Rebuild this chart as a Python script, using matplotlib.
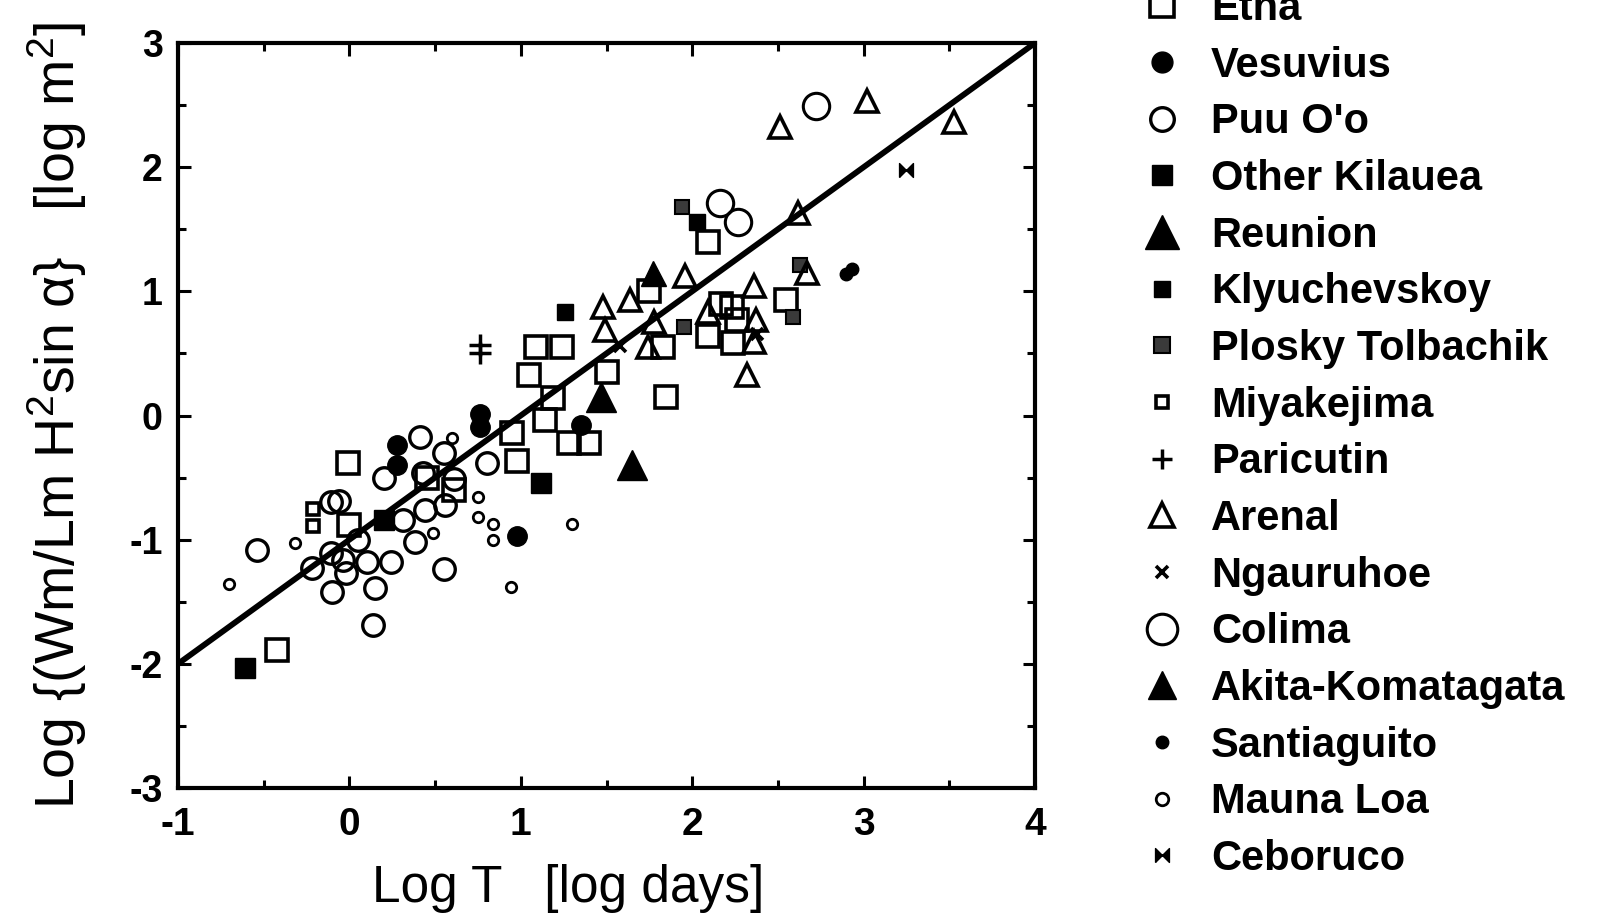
import matplotlib
matplotlib.use("Agg")
import matplotlib.pyplot as plt
from matplotlib.lines import Line2D

plt.rcParams['font.family'] = ['Liberation Sans', 'DejaVu Sans']
plt.rcParams['mathtext.fontset'] = 'custom'
plt.rcParams['mathtext.rm'] = 'Liberation Sans'
plt.rcParams['mathtext.it'] = 'Liberation Sans:italic'

# ---- data (log T [log days], log{Wm/Lm H^2 sin a} [log m^2]) ----
etna_x = [-0.42, -0.01, 0.00, 0.45, 0.61, 0.95, 0.98, 1.09, 1.24, 1.05, 1.19, 1.14, 1.28,
          1.40, 1.50, 1.85, 1.75, 2.09, 1.83, 2.17, 2.23, 2.26, 2.09, 2.24, 2.55]
etna_y = [-1.89, -0.38, -0.88, -0.50, -0.60, -0.14, -0.37, 0.55, 0.55, 0.33, 0.14, -0.04, -0.22,
          -0.22, 0.35, 0.15, 1.00, 1.40, 0.55, 0.90, 0.87, 0.77, 0.64, 0.58, 0.93]

vesuvius_x = [0.28, 0.28, 0.76, 0.76, 0.98, 1.35]
vesuvius_y = [-0.24, -0.40, 0.01, -0.09, -0.97, -0.08]

puuoo_x = [-0.54, -0.11, -0.06, 0.41, 0.20, -0.22, -0.11, -0.04, -0.02, 0.10, 0.24, -0.10,
           0.15, 0.14, 0.55, 0.38, 0.44, 0.56, 0.61, 0.80, 0.55, 0.31, 0.43, 0.05]
puuoo_y = [-1.08, -0.70, -0.69, -0.17, -0.50, -1.23, -1.11, -1.16, -1.27, -1.18, -1.18, -1.42,
           -1.39, -1.69, -1.24, -1.02, -0.76, -0.72, -0.51, -0.38, -0.30, -0.84, -0.46, -1.00]

kilauea_x = [-0.61, 1.12, 0.20]
kilauea_y = [-2.03, -0.54, -0.84]

reunion_x = [1.47, 1.65]
reunion_y = [0.15, -0.40]

klyuchevskoy_x = [1.26, 2.03]
klyuchevskoy_y = [0.83, 1.56]

tolbachik_x = [1.94, 1.95, 2.59, 2.63]
tolbachik_y = [1.68, 0.71, 0.79, 1.21]

miyakejima_x = [-0.21, -0.21]
miyakejima_y = [-0.75, -0.89]

paricutin_x = [0.76, 0.76]
paricutin_y = [0.57, 0.50]

arenal_x = [2.51, 3.02, 3.53, 2.62, 2.67, 2.36, 2.32, 1.96, 1.64, 1.48, 1.49, 1.78, 1.74,
            2.09, 2.37, 2.36]
arenal_y = [2.32, 2.53, 2.36, 1.63, 1.15, 1.04, 0.33, 1.12, 0.93, 0.87, 0.69, 0.75, 0.55,
            0.83, 0.77, 0.59]

ngauruhoe_x = [1.58, 2.38]
ngauruhoe_y = [0.56, 0.66]

colima_x = [2.72, 2.16, 2.27]
colima_y = [2.49, 1.71, 1.56]

akita_x = [1.77]
akita_y = [1.15]

santiaguito_x = [2.90, 2.93]
santiaguito_y = [1.14, 1.18]

maunaloa_x = [-0.70, -0.32, 0.60, 0.75, 0.75, 0.84, 0.84, 0.49, 1.30, 0.94]
maunaloa_y = [-1.36, -1.03, -0.18, -0.66, -0.82, -0.87, -1.00, -0.95, -0.87, -1.38]

ceboruco_x = [3.25]
ceboruco_y = [1.98]

fit_x = [-1, 4]
fit_y = [-2, 3]

xtick_vals = [-1, 0, 1, 2, 3, 4]
xtick_labels = ['-1', '0', '1', '2', '3', '4']
ytick_vals = [-3, -2, -1, 0, 1, 2, 3]
ytick_labels = ['-3', '-2', '-1', '0', '1', '2', '3']

bowtie = [(-1, -1), (1, 1), (1, -1), (-1, 1), (-1, -1)]

# name, x, y, plot style, legend marker size
series = [
    ('Etna', etna_x, etna_y, dict(marker='s', ms=15.5, mfc='none', mew=2.6), 17),
    ('Vesuvius', vesuvius_x, vesuvius_y, dict(marker='o', ms=14, mfc='k', mew=1), 15),
    ("Puu O'o", puuoo_x, puuoo_y, dict(marker='o', ms=15.5, mfc='none', mew=2.4), 17),
    ('Other Kilauea', kilauea_x, kilauea_y, dict(marker='s', ms=15, mfc='k', mew=1), 15),
    ('Reunion', reunion_x, reunion_y, dict(marker='^', ms=22, mfc='k', mew=1), 24),
    ('Klyuchevskoy', klyuchevskoy_x, klyuchevskoy_y, dict(marker='s', ms=11, mfc='k', mew=1), 11),
    ('Plosky Tolbachik', tolbachik_x, tolbachik_y, dict(marker='s', ms=10, mfc='#3a3a3a', mew=1.5), 11),
    ('Miyakejima', miyakejima_x, miyakejima_y, dict(marker='s', ms=8, mfc='w', mew=2.6), 9),
    ('Paricutin', paricutin_x, paricutin_y, dict(marker='+', ms=16, mew=2.5), 15),
    ('Arenal', arenal_x, arenal_y, dict(marker='^', ms=16, mfc='none', mew=2.6), 17),
    ('Ngauruhoe', ngauruhoe_x, ngauruhoe_y, dict(marker='x', ms=8, mew=2.6), 9),
    ('Colima', colima_x, colima_y, dict(marker='o', ms=19, mfc='none', mew=2.2), 22),
    ('Akita-Komatagata', akita_x, akita_y, dict(marker='^', ms=18, mfc='k', mew=1), 20),
    ('Santiaguito', santiaguito_x, santiaguito_y, dict(marker='o', ms=9, mfc='k', mew=1), 9),
    ('Mauna Loa', maunaloa_x, maunaloa_y, dict(marker='o', ms=7.5, mfc='none', mew=2), 9),
    ('Ceboruco', ceboruco_x, ceboruco_y, dict(marker=bowtie, ms=10, mfc='k', mew=1), 10),
]

fig = plt.figure(figsize=(16.02, 9.23), dpi=100)
ax = fig.add_axes([178 / 1602, 1 - 788 / 923, 857 / 1602, 745 / 923])

ax.plot(fit_x, fit_y, color='k', lw=4.2, solid_capstyle='butt', zorder=2)

handles = []
for name, xs, ys, st, leg_ms in series:
    ax.plot(xs, ys, ls='none', color='k', mec='k', zorder=3, **st)
    leg_st = dict(st)
    leg_st['ms'] = leg_ms
    handles.append(Line2D([], [], ls='none', color='k', mec='k', **leg_st))

ax.set_xlim(-1, 4)
ax.set_ylim(-3, 3)
ax.set_xticks(xtick_vals)
ax.set_xticklabels(xtick_labels, fontweight='bold', fontsize=28)
ax.set_yticks(ytick_vals)
ax.set_yticklabels(ytick_labels, fontweight='bold', fontsize=27)
ax.set_xticks([v + 0.5 for v in xtick_vals[:-1]], minor=True)
ax.set_yticks([v + 0.5 for v in ytick_vals[:-1]], minor=True)
ax.tick_params(which='both', direction='in', top=True, right=True, width=2.2)
ax.tick_params(which='major', length=9)
ax.tick_params(which='minor', length=6)
ax.tick_params(axis='x', pad=14)
ax.tick_params(axis='y', pad=11)
for sp in ax.spines.values():
    sp.set_linewidth(3)

ax.set_xlabel('Log T   [log days]', fontsize=37)
ax.xaxis.set_label_coords(0.455, -0.102)
ax.set_ylabel(r'Log {(Wm/Lm H$^2$sin α}   [log m$^2$]', fontsize=40)
ax.yaxis.set_label_coords(-0.104, 0.5)

ax.legend(handles, [s[0] for s in series], loc='upper left',
          bbox_to_anchor=(1141 / 1602, 1.012), bbox_transform=fig.transFigure,
          frameon=False, prop={'weight': 'bold', 'size': 30},
          handlelength=1.0, handletextpad=0.68, labelspacing=0.40,
          borderpad=0, borderaxespad=0, numpoints=1)

fig.savefig('out.png', dpi=100)
